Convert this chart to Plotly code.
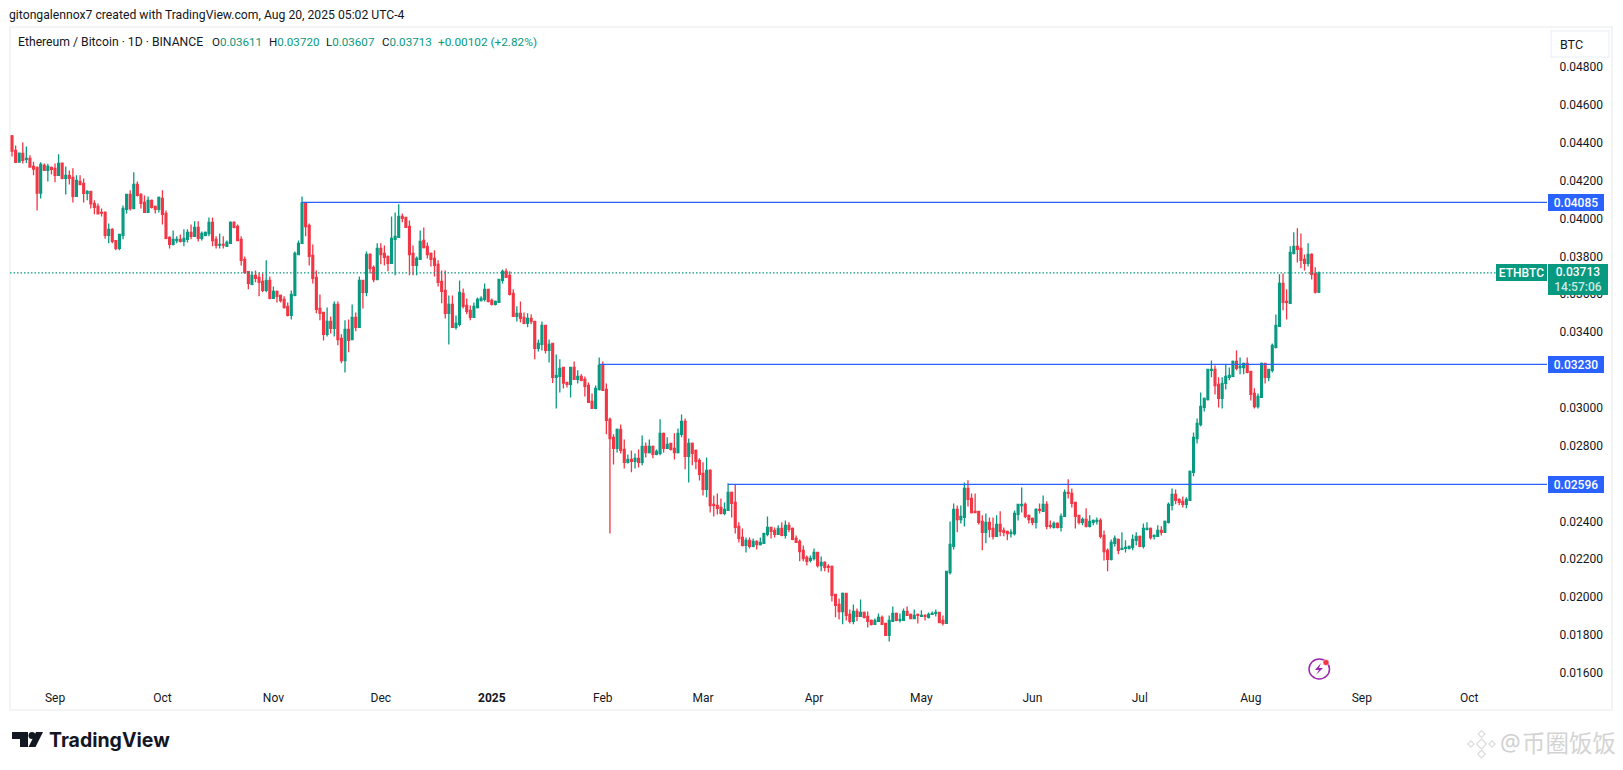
import pandas as pd
import plotly.graph_objects as go

# Prices in units of 0.00001 BTC, one per daily candle from 2024-08-20 to 2025-08-20
START_DATE = "2024-08-20"
open_e5 = [
4436,4360,4298,4344,4312,4318,4275,4270,4134,4281,
4254,4270,4265,4228,4293,4212,4228,4217,4117,4196,
4186,4133,4143,4080,4064,4032,4032,3911,3943,3883,
3842,3911,4048,4127,4053,4180,4127,4085,4032,4096,
4064,4048,4106,4027,3900,3863,3884,3890,3879,3890,
3927,3906,3953,3895,3911,3921,3980,3890,3860,3863,
3853,3869,3980,3958,3890,3784,3719,3652,3700,3689,
3668,3620,3673,3578,3615,3594,3573,3536,3488,3594,
3810,3869,4083,3964,3805,3689,3525,3504,3388,3456,
3420,3546,3367,3250,3414,3361,3478,3425,3673,3610,
3810,3742,3678,3842,3816,3800,3763,3890,3900,4011,
4006,3958,3816,3752,3784,3884,3853,3816,3789,3758,
3668,3620,3499,3546,3425,3441,3604,3541,3515,3478,
3530,3567,3573,3626,3567,3546,3557,3673,3721,3700,
3604,3483,3499,3478,3446,3472,3456,3314,3335,3435,
3303,3340,3161,3166,3213,3134,3124,3213,3150,3166,
3150,3118,3034,2997,3096,3224,3097,2939,2844,2786,
2886,2780,2712,2727,2717,2733,2712,2796,2764,2796,
2754,2759,2865,2786,2812,2786,2764,2860,2928,2743,
2812,2775,2722,2653,2569,2669,2490,2484,2474,2442,
2458,2553,2500,2373,2315,2273,2300,2268,2294,2278,
2284,2331,2368,2352,2331,2363,2326,2379,2363,2310,
2294,2247,2210,2194,2204,2236,2167,2183,2162,2162,
2014,1961,1924,2020,1909,1872,1924,1898,1919,1898,
1877,1856,1872,1893,1861,1798,1872,1914,1877,1877,
1924,1909,1887,1909,1898,1903,1893,1909,1914,1919,
1877,1861,2130,2268,2463,2410,2421,2574,2521,2453,
2453,2400,2342,2395,2363,2321,2384,2352,2347,2336,
2336,2437,2484,2490,2432,2416,2395,2463,2453,2490,
2379,2368,2389,2368,2426,2553,2548,2500,2432,2395,
2410,2374,2395,2400,2405,2326,2247,2199,2284,2305,
2252,2257,2257,2263,2300,2321,2268,2358,2363,2321,
2321,2352,2342,2395,2485,2543,2516,2506,2490,2511,
2659,2838,2912,3002,3044,3198,3203,3124,3050,3129,
3161,3166,3245,3213,3213,3235,3192,3076,3007,3055,
3235,3161,3198,3319,3430,3657,3562,3552,3816,3853,
3842,3784,3763,3810,3710,3611]
high_e5 = [
4441,4386,4349,4402,4381,4334,4300,4275,4297,4291,
4289,4275,4291,4339,4293,4275,4254,4265,4228,4228,
4212,4149,4143,4096,4080,4053,4038,3974,3948,3884,
3916,4069,4127,4149,4244,4196,4133,4122,4117,4101,
4069,4117,4149,4043,3906,3937,3906,3916,3943,3943,
3969,3985,3985,3932,3932,4006,4006,3906,3921,3906,
3884,3985,3985,3969,3906,3800,3719,3721,3726,3714,
3710,3779,3694,3641,3620,3599,3589,3557,3620,3826,
3884,4117,4089,3974,3863,3726,3599,3504,3530,3483,
3562,3562,3388,3462,3467,3546,3504,3694,3673,3826,
3816,3752,3869,3869,3858,3805,4011,4032,4075,4027,
4006,3990,3858,3800,3937,3953,3874,3821,3832,3779,
3726,3726,3594,3594,3488,3673,3631,3578,3541,3557,
3583,3589,3657,3626,3578,3567,3678,3731,3736,3721,
3626,3536,3562,3504,3499,3494,3456,3361,3456,3435,
3361,3340,3282,3256,3213,3134,3213,3245,3198,3177,
3166,3134,3076,3118,3266,3245,3129,2949,2860,2891,
2912,2833,2754,2775,2759,2780,2854,2817,2833,2801,
2780,2939,2870,2844,2812,2865,2891,2965,2944,2838,
2817,2780,2733,2712,2738,2675,2537,2548,2521,2500,
2601,2558,2594,2395,2363,2315,2315,2310,2300,2315,
2336,2426,2368,2368,2379,2395,2405,2395,2368,2326,
2305,2273,2220,2220,2257,2236,2215,2189,2173,2167,
2014,1993,2025,2020,1935,1961,1940,1988,1924,1924,
1882,1887,1914,1903,1861,1903,1951,1919,1914,1940,
1951,1914,1935,1914,1930,1909,1919,1924,1935,1919,
1903,2136,2400,2495,2484,2484,2606,2617,2548,2548,
2453,2432,2442,2421,2421,2432,2453,2368,2352,2358,
2458,2490,2579,2500,2437,2421,2469,2495,2537,2506,
2405,2400,2395,2442,2569,2622,2574,2500,2432,2421,
2469,2432,2410,2421,2416,2352,2257,2305,2326,2310,
2342,2300,2273,2331,2342,2326,2389,2395,2368,2331,
2379,2374,2405,2500,2574,2569,2522,2532,2527,2669,
2870,2944,3081,3055,3203,3250,3224,3161,3161,3229,
3213,3250,3303,3266,3240,3266,3192,3103,3076,3240,
3235,3203,3340,3493,3705,3710,3626,3853,3927,3948,
3921,3810,3869,3816,3742,3720]
low_e5 = [
4328,4293,4298,4291,4293,4268,4228,4043,4106,4252,
4196,4233,4191,4228,4207,4127,4180,4085,4117,4175,
4085,4096,4053,4022,4022,4011,3893,3869,3869,3832,
3832,3890,4027,4043,4053,4117,4053,4032,4032,4053,
4027,4032,3969,3890,3842,3858,3869,3874,3853,3874,
3890,3906,3879,3884,3906,3906,3853,3842,3842,3842,
3853,3869,3948,3883,3752,3708,3626,3647,3663,3589,
3610,3610,3573,3578,3557,3557,3525,3483,3467,3589,
3810,3869,3906,3752,3657,3499,3462,3356,3377,3393,
3377,3330,3235,3187,3293,3361,3404,3425,3525,3589,
3710,3663,3678,3758,3752,3721,3763,3700,3900,3980,
3953,3700,3700,3700,3784,3842,3789,3747,3694,3641,
3552,3472,3335,3425,3414,3430,3525,3494,3462,3478,
3525,3562,3562,3557,3541,3541,3557,3657,3689,3594,
3483,3456,3451,3441,3425,3441,3256,3298,3303,3287,
3240,3131,2997,3081,3102,3108,3055,3150,3129,3140,
3060,3029,2997,2992,3092,3092,2860,2336,2701,2764,
2759,2680,2706,2659,2680,2685,2696,2738,2759,2733,
2749,2749,2764,2786,2775,2727,2759,2844,2675,2606,
2696,2675,2616,2537,2527,2447,2426,2437,2437,2432,
2458,2421,2336,2289,2268,2236,2257,2263,2252,2273,
2284,2321,2310,2315,2331,2321,2310,2342,2300,2289,
2189,2189,2167,2183,2194,2157,2136,2136,2130,1977,
1893,1882,1856,1877,1861,1856,1872,1898,1887,1840,
1850,1856,1872,1856,1798,1766,1872,1872,1866,1877,
1903,1887,1887,1861,1898,1877,1887,1909,1898,1866,
1850,1861,2120,2252,2342,2389,2373,2479,2442,2447,
2384,2247,2284,2315,2305,2321,2321,2321,2300,2315,
2326,2405,2447,2416,2389,2379,2363,2442,2453,2358,
2363,2363,2363,2347,2426,2521,2474,2363,2384,2379,
2368,2368,2379,2384,2310,2194,2136,2194,2268,2226,
2247,2236,2252,2247,2273,2263,2257,2352,2305,2305,
2321,2326,2342,2389,2458,2490,2485,2474,2469,2511,
2638,2812,2902,2981,3039,3161,3071,3002,2997,3097,
3145,3166,3198,3177,3177,3182,3039,2997,2997,3055,
3129,3140,3187,3314,3430,3515,3467,3552,3810,3768,
3737,3726,3747,3678,3604,3607]
close_e5 = [
4356,4297,4346,4307,4318,4272,4261,4134,4286,4254,
4275,4260,4228,4291,4212,4228,4212,4117,4201,4180,
4133,4143,4078,4059,4025,4029,3911,3943,3879,3842,
3916,4053,4127,4053,4180,4122,4080,4032,4096,4059,
4048,4112,4022,3895,3863,3890,3890,3879,3895,3927,
3906,3953,3895,3921,3927,3980,3884,3858,3863,3860,
3874,3980,3953,3884,3779,3714,3657,3700,3684,3663,
3620,3673,3578,3615,3589,3567,3530,3488,3599,3816,
3869,4083,3958,3800,3684,3520,3499,3388,3456,3420,
3546,3361,3250,3414,3356,3478,3425,3673,3610,3810,
3736,3678,3842,3810,3795,3763,3895,3906,4011,4001,
3953,3810,3752,3789,3879,3847,3810,3784,3752,3663,
3615,3499,3546,3425,3446,3610,3536,3509,3478,3536,
3573,3578,3626,3562,3546,3562,3678,3721,3689,3599,
3483,3499,3472,3446,3472,3456,3314,3340,3435,3303,
3335,3161,3171,3208,3131,3124,3213,3150,3166,3145,
3113,3029,2997,3103,3224,3092,2934,2838,2786,2886,
2775,2712,2727,2717,2733,2712,2796,2764,2796,2754,
2770,2865,2786,2807,2780,2764,2865,2928,2743,2812,
2759,2717,2648,2569,2669,2484,2484,2469,2442,2463,
2553,2495,2368,2310,2273,2300,2268,2294,2278,2289,
2336,2368,2347,2331,2363,2326,2379,2358,2305,2289,
2241,2204,2189,2204,2236,2167,2183,2157,2157,2009,
1956,1924,2020,1903,1872,1924,1898,1919,1893,1872,
1856,1877,1893,1856,1798,1877,1914,1877,1882,1924,
1903,1887,1903,1903,1903,1898,1909,1914,1919,1866,
1861,2136,2278,2463,2410,2426,2574,2516,2447,2447,
2395,2342,2395,2358,2321,2384,2347,2342,2336,2342,
2442,2490,2490,2426,2410,2395,2463,2458,2490,2374,
2374,2389,2368,2426,2553,2548,2495,2426,2395,2410,
2374,2400,2405,2405,2321,2241,2199,2289,2310,2247,
2257,2263,2268,2305,2321,2268,2363,2363,2315,2326,
2352,2342,2400,2490,2543,2511,2500,2490,2516,2664,
2844,2918,3007,3050,3203,3203,3118,3050,3129,3166,
3171,3245,3208,3219,3235,3187,3071,3007,3060,3235,
3161,3203,3330,3435,3657,3557,3557,3821,3853,3837,
3779,3763,3810,3705,3611,3713]

level_prices = [0.04085, 0.03230, 0.02596]
level_starts = ["2024-11-09", "2025-01-31", "2025-03-08"]
last_price = 0.03713

y_ticks = [0.016, 0.018, 0.020, 0.022, 0.024, 0.028, 0.030,
           0.034, 0.036, 0.038, 0.040, 0.042, 0.044, 0.046, 0.048]
x_tick_dates = ["2024-09-01", "2024-10-01", "2024-11-01", "2024-12-01", "2025-01-01",
                "2025-02-01", "2025-03-01", "2025-04-01", "2025-05-01", "2025-06-01",
                "2025-07-01", "2025-08-01", "2025-09-01", "2025-10-01"]
x_tick_text = ["Sep", "Oct", "Nov", "Dec", "<b>2025</b>", "Feb", "Mar", "Apr", "May",
               "Jun", "Jul", "Aug", "Sep", "Oct"]

assert len(open_e5) == len(high_e5) == len(low_e5) == len(close_e5) == 366

dates = pd.date_range(START_DATE, periods=len(open_e5), freq="D")
scale = lambda v: [a / 100000 for a in v]

UP = "#089981"
DOWN = "#F23645"
BLUE = "#2962FF"
TEXT = "#131722"
FONT = "Roboto"

W, H = 1623, 770
L, R, T, B = 10, 1547, 27, 685
X_RANGE = ["2024-08-19 10:20", "2025-10-22 17:30"]
Y_RANGE = [0.015357, 0.050118]


def px(x):
    return (x - L) / (R - L)


def py(y):
    return 1 - (y - T) / (B - T)


def poly(points):
    return "M" + " L".join(f"{px(x):.5f},{py(y):.5f}" for x, y in points) + " Z"


fig = go.Figure()
fig.add_trace(go.Candlestick(
    x=dates, open=scale(open_e5), high=scale(high_e5), low=scale(low_e5), close=scale(close_e5),
    increasing=dict(line=dict(color=UP, width=1.3), fillcolor=UP),
    decreasing=dict(line=dict(color=DOWN, width=1.3), fillcolor=DOWN),
    whiskerwidth=0, hoverinfo="skip", showlegend=False,
))
fig.add_trace(go.Scatter(
    x=[X_RANGE[0], X_RANGE[1]], y=[last_price, last_price], mode="lines",
    line=dict(color=UP, width=1.3, dash="1.5px,2px"), hoverinfo="skip", showlegend=False,
))
for price, start in zip(level_prices, level_starts):
    fig.add_trace(go.Scatter(
        x=[start, X_RANGE[1]], y=[price, price], mode="lines",
        line=dict(color=BLUE, width=1.3), hoverinfo="skip", showlegend=False,
    ))

annotations = []


def text(x, y, s, size=12, color=TEXT, anchor="left", font=FONT, weight=None):
    f = dict(family=font, size=size, color=color)
    if weight:
        f["weight"] = weight
    annotations.append(dict(
        x=px(x), y=py(y), xref="paper", yref="paper", text=s, showarrow=False,
        xanchor=anchor, yanchor="middle", font=f, borderpad=0, borderwidth=0,
    ))


def box(x0, x1, y0, y1, s, bg, color="white", size=12, weight=500):
    annotations.append(dict(
        x=px(x0), y=py(y0), xref="paper", yref="paper", text=s, showarrow=False,
        xanchor="left", yanchor="top", width=x1 - x0, height=y1 - y0, align="center",
        valign="middle", bgcolor=bg, borderpad=0, borderwidth=0,
        font=dict(family=FONT, size=size, color=color, weight=weight),
    ))


text(9, 15, "gitongalennox7 created with TradingView.com, Aug 20, 2025 05:02 UTC-4", 12.2)
text(18, 41.5, "Ethereum / Bitcoin · 1D · BINANCE", 12.2)
for x, lab, val in [(212, "O", "0.03611"), (269, "H", "0.03720"), (326, "L", "0.03607"), (382, "C", "0.03713")]:
    text(x, 41.5, f'{lab}<span style="color:{UP}">{val}</span>', 11.6)
text(438, 41.5, "+0.00102 (+2.82%)", 11.8, UP)

for price, lab in zip(level_prices, ["0.04085", "0.03230", "0.02596"]):
    yc = T + (Y_RANGE[1] - price) / (Y_RANGE[1] - Y_RANGE[0]) * (B - T)
    box(1548, 1604, yc - 8.5, yc + 8.5, lab, BLUE)
box(1496, 1547, 264, 281, "ETHBTC", UP)
box(1548, 1608, 264, 295,
    '0.03713<br><span style="color:rgba(255,255,255,0.8)">14:57:06</span>', UP)
text(1560, 44, "BTC", 12.5)
text(49, 740, "<b>TradingView</b>", 19.5, "#131722", font="Inter")
text(1500, 742, "@", 23, "#d0d0d0", font="Noto Sans")
text(1522, 742, "币圈饭饭", 23.5, "#d4d4d4", font="Noto Sans CJK SC")

FRAME = "#F3F4F6"
shapes = [
    # chart frame
    dict(type="rect", xref="paper", yref="paper", x0=px(10), x1=px(1612), y0=py(27), y1=py(710),
         line=dict(color=FRAME, width=2), layer="below"),
    # currency button
    dict(type="rect", xref="paper", yref="paper", x0=px(1551), x1=px(1609), y0=py(31), y1=py(57),
         line=dict(color="#F0F3FA", width=1.5), fillcolor="white", layer="below"),
    # TradingView logo
    dict(type="path", xref="paper", yref="paper",
         path=poly([(12, 732), (28, 732), (28, 747), (20, 747), (20, 739), (12, 739)]),
         fillcolor="#131722", line=dict(width=0)),
    dict(type="circle", xref="paper", yref="paper", x0=px(28.5), x1=px(35.5), y0=py(732), y1=py(739),
         fillcolor="#131722", line=dict(width=0)),
    dict(type="path", xref="paper", yref="paper",
         path=poly([(36, 732), (43, 732), (35.5, 747), (28.5, 747)]),
         fillcolor="#131722", line=dict(width=0)),
    # lightning badge
    dict(type="circle", xref="paper", yref="paper", x0=px(1309), x1=px(1329.5), y0=py(659), y1=py(679),
         line=dict(color="#9C27B0", width=1.5)),
    dict(type="path", xref="paper", yref="paper",
         path=poly([(1321, 663), (1315, 670), (1319, 670), (1316, 675), (1323, 668), (1319, 668)]),
         fillcolor="#9C27B0", line=dict(width=0)),
    dict(type="circle", xref="paper", yref="paper", x0=px(1323), x1=px(1329), y0=py(659.5), y1=py(665.5),
         fillcolor="#F23645", line=dict(color="white", width=0.5)),
]
# watermark emblem
for cx, cy, r in [(1481.5, 734, 3.4), (1471, 744, 3.2), (1492, 744, 3.2), (1481.5, 744, 5), (1481.5, 754, 3.8)]:
    shapes.append(dict(type="path", xref="paper", yref="paper",
                       path=poly([(cx, cy - r), (cx + r, cy), (cx, cy + r), (cx - r, cy)]),
                       fillcolor="white", line=dict(color="#dcdcdc", width=1.2)))

fig.update_layout(
    width=W, height=H, autosize=False,
    margin=dict(l=L, r=W - R, t=T, b=H - B, pad=0),
    paper_bgcolor="white", plot_bgcolor="white",
    boxgap=0.5, boxgroupgap=0, showlegend=False,
    font=dict(family=FONT, size=12, color=TEXT),
    annotations=annotations, shapes=shapes,
    xaxis=dict(
        type="date", range=X_RANGE, rangeslider=dict(visible=False), showgrid=False, zeroline=False,
        showline=False, tickmode="array", tickvals=x_tick_dates, ticktext=x_tick_text,
        ticks="outside", ticklen=2, tickcolor="white", tickfont=dict(family=FONT, size=12, color=TEXT),
    ),
    yaxis=dict(
        range=Y_RANGE, side="right", showgrid=False, zeroline=False, showline=False,
        tickmode="array", tickvals=y_ticks, tickformat=".5f",
        ticks="outside", ticklen=9, tickcolor="white", tickfont=dict(family=FONT, size=12, color=TEXT),
    ),
)

fig.write_html(
    "out.html",
    config=dict(displayModeBar=False),
    post_script="document.body.style.margin='0';document.body.style.overflow='hidden';",
)
